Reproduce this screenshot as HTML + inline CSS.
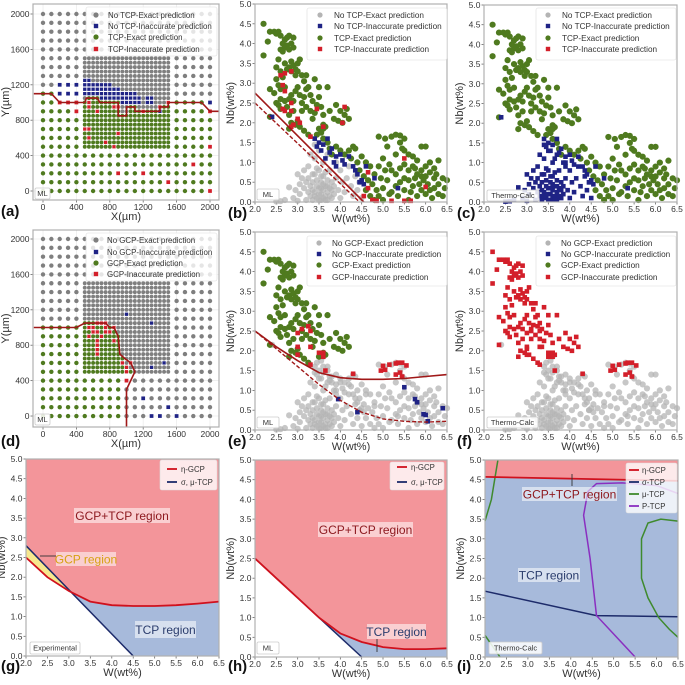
<!DOCTYPE html>
<html><head><meta charset="utf-8"><style>
html,body{margin:0;padding:0;background:#fff;width:685px;height:685px;overflow:hidden}
svg{display:block}
text{font-family:"Liberation Sans",Arial,sans-serif}
</style></head><body>
<svg id="chart" width="685" height="685" viewBox="0 0 685 685" xmlns="http://www.w3.org/2000/svg"></svg>
<script>
// ---------- data ----------
const gridOuter=[0,100,200,300,400,500,600,700,800,900,1000,1100,1200,1300,1400,1500,1600,1700,1800,1900,2000];
const gridInner=[500,550,600,650,700,750,800,850,900,950,1000,1050,1100,1150,1200,1250,1300,1350,1400,1450,1500];
const aBoundX=[-110,100,200,500,520,650,680,900,900,1000,1000,1100,1100,1400,1400,1500,1500,1900,2000,2110];
const aBoundY=[1100,1100,1000,1000,1050,1050,1000,1000,850,850,950,950,900,900,950,950,1000,1000,900,900];
const aBlue=[[200,1200],[300,1200],[400,1200],[200,1100],[300,1100],[400,1100],[500,1250],[550,1250],[500,1200],[550,1200],[600,1200],[650,1200],[700,1200],[750,1200],[800,1200],[500,1150],[550,1150],[600,1150],[650,1150],[700,1150],[750,1150],[800,1150],[850,1150],[900,1150],[500,1100],[550,1100],[600,1100],[650,1100],[700,1100],[750,1100],[800,1100],[850,1100],[900,1100],[950,1100],[1000,1100],[1050,1100],[1100,1100],[700,1050],[750,1050],[800,1050],[850,1050],[900,1050],[950,1050],[1000,1050],[1050,1050],[1100,1050],[1150,1050],[1250,1050],[1300,1050],[950,1000],[1000,1000],[1050,1000],[1100,1000],[1150,1000],[1250,1000],[1300,1000],[1400,900],[2000,1000]];
const aRed=[[200,1000],[300,1000],[400,1000],[400,900],[550,1000],[550,950],[650,900],[900,950],[850,950],[500,700],[550,700],[550,600],[750,550],[850,500],[900,650],[1500,1000],[2000,900],[2000,500],[1800,300],[900,200],[1200,200],[1500,100],[2000,0],[1400,950],[1200,900]];
const dBoundX=[-110,400,500,750,800,850,900,920,980,1050,1100,1050,1000,1000];
const dBoundY=[1000,1000,1050,1050,1000,1000,900,700,650,600,500,400,300,-120];
const dLimitY=[1050,1000,950,900,850,800,750,700,650,600,550,500,400,300,200,100,0];
const dLimitX=[750,850,850,900,900,900,900,900,950,950,1000,1050,950,950,950,950,950];
const dRed=[[550,1000],[600,1000],[650,1050],[700,1050],[750,1050],[850,1000],[600,950],[650,950],[750,950],[700,900],[800,950],[750,1000],[550,900],[650,850],[650,800],[650,750],[650,700],[850,850],[950,600],[1000,550],[1000,500],[1050,600],[1000,400]];
const dBlue=[[1000,1150],[1300,1050],[1300,550],[1450,600],[1200,200],[1500,100],[1300,0],[1400,0],[1600,0]];

const ptsA=[[2.2,4.5],[2.2,3.7],[2.3,4.05],[2.35,4.3],[2.45,4.3],[2.5,4.25],[2.55,4.3],[2.6,4.2],[2.65,4.0],[2.7,3.9],[2.7,4.1],[2.75,3.95],[2.8,3.85],[2.8,4.2],[2.85,4.0],[2.6,3.85],[2.65,3.8],[2.75,4.15],[2.9,4.15],[2.9,3.9],[2.55,3.6],[2.5,3.4],[2.6,3.3],[2.7,3.5],[2.75,3.35],[2.8,3.4],[2.85,3.3],[2.9,3.45],[2.95,3.35],[3.0,3.5],[3.0,3.3],[3.05,3.6],[2.85,3.55],[2.95,3.2],[3.1,3.2],[3.15,3.05],[3.2,3.2],[2.5,3.1],[2.55,2.95],[2.6,2.85],[2.65,3.15],[2.7,2.9],[2.45,2.75],[2.35,2.85],[2.5,2.5],[2.55,2.45],[2.6,2.6],[2.7,2.55],[2.75,2.4],[2.8,2.6],[2.85,2.7],[2.9,2.55],[2.95,2.8],[3.0,2.9],[3.05,2.7],[3.1,2.5],[3.15,2.65],[3.2,2.85],[3.25,2.9],[3.3,2.7],[3.35,2.55],[3.3,2.3],[3.2,2.4],[3.1,2.3],[2.9,2.3],[2.8,2.2],[2.85,2.0],[2.8,1.85],[2.95,1.95],[3.0,2.05],[3.05,1.9],[3.15,1.8],[3.25,1.7],[3.35,2.1],[3.4,2.25],[3.45,2.45],[3.5,2.65],[3.55,2.4],[3.6,2.2],[3.7,2.9],[3.65,1.9],[3.5,1.85],[3.6,1.95],[3.9,2.45],[4.0,2.3],[4.1,2.2],[4.15,2.35],[4.05,2.0],[4.2,2.1],[3.85,2.1],[3.95,2.05],[3.75,2.3],[2.6,2.35],[2.35,2.15],[3.4,3.1],[3.5,2.9]];
const ptsB=[[3.6,1.6],[3.7,1.5],[3.75,1.35],[3.8,1.2],[3.9,1.4],[4.0,1.3],[4.1,1.2],[4.2,1.3],[4.3,1.4],[4.35,1.35],[4.25,1.1],[4.4,1.0],[4.5,1.15],[4.6,1.0],[4.7,0.9],[4.45,0.8],[4.55,0.65],[4.65,0.55],[4.8,0.7],[4.75,0.45],[4.85,0.3],[4.9,0.9],[4.6,0.3],[4.7,0.15],[4.8,0.05],[3.55,1.75],[3.45,1.7],[3.6,1.85]];
const ptsC=[[4.9,1.65],[5.05,1.6],[5.2,1.65],[5.3,1.7],[5.4,1.68],[5.5,1.6],[5.4,1.5],[5.45,1.35],[5.1,1.4],[5.0,1.1],[5.15,0.95],[5.3,1.2],[5.5,1.3],[5.6,1.2],[5.7,1.15],[5.8,1.05],[5.9,1.4],[6.0,1.4],[6.1,1.0],[6.2,0.85],[6.3,1.05],[6.4,0.6],[6.5,0.55],[6.45,0.35],[6.3,0.45],[6.2,0.6],[6.1,0.75],[6.0,0.9],[5.9,0.8],[5.8,0.7],[5.7,0.9],[5.6,0.8],[5.5,0.95],[5.4,0.85],[5.3,0.7],[5.2,0.8],[5.1,0.55],[5.0,0.35],[4.9,0.15],[5.0,0.05],[5.2,0.25],[5.3,0.4],[5.4,0.5],[5.5,0.3],[5.6,0.55],[5.7,0.4],[5.75,0.6],[5.85,0.45],[5.9,0.3],[5.95,0.55],[6.0,0.2],[6.05,0.45],[6.1,0.3],[6.15,0.1],[6.2,0.35],[6.3,0.2],[6.4,0.15],[5.8,0.15],[5.6,0.05],[5.65,0.25],[5.9,0.65],[6.0,0.65],[5.5,0.6],[5.35,0.15],[5.75,0.85],[6.25,0.7],[4.95,0.6],[5.05,0.8],[5.15,0.2]];
const ptsD=[[2.8,0.37],[2.7,0.05],[2.9,0.1],[3.0,0.7],[3.05,0.2],[3.1,0.6],[3.15,0.35],[3.2,0.05],[3.2,0.5],[3.25,0.9],[3.3,0.15],[3.3,0.4],[3.35,0.7],[3.35,0.05],[3.4,0.25],[3.4,1.1],[3.45,0.55],[3.45,0.1],[3.5,0.35],[3.5,0.8],[3.5,1.3],[3.55,0.05],[3.55,0.2],[3.55,0.5],[3.6,0.3],[3.6,0.1],[3.6,0.65],[3.6,1.0],[3.65,0.4],[3.65,0.15],[3.7,0.05],[3.7,0.25],[3.7,0.55],[3.7,1.2],[3.75,0.35],[3.75,0.8],[3.8,0.1],[3.8,0.5],[3.85,0.2],[3.9,0.6],[3.9,1.0],[3.95,0.3],[4.0,0.1],[4.0,0.8],[4.05,0.5],[4.1,0.25],[4.15,0.6],[4.2,0.9],[4.25,0.4],[4.3,0.15],[4.35,0.65],[4.4,0.3],[4.45,0.5],[4.5,0.1],[3.3,1.2],[3.4,1.45],[3.25,0.25],[3.45,0.85],[3.15,0.8],[3.05,0.45],[2.95,0.3],[3.35,0.5],[3.5,0.05],[3.65,0.75],[3.8,0.3],[3.4,0.7],[2.6,0.02],[2.5,0.01],[3.0,0.03],[3.35,0.3],[3.45,0.4],[3.55,0.35],[3.65,0.05],[3.75,0.15],[3.5,0.2],[3.4,0.15],[3.6,0.45],[3.7,0.4],[3.25,0.6],[3.85,0.4],[3.55,0.65]];
const bBlue=[[2.4,2.15],[3.4,1.6],[3.45,1.4],[3.5,1.5],[3.55,1.3],[3.6,1.45],[3.65,1.1],[3.7,1.6],[3.75,1.25],[3.8,1.35],[3.85,1.0],[3.9,0.9],[4.0,1.2],[4.05,1.05],[4.1,0.95],[4.2,1.15],[4.3,0.9],[4.35,0.8],[4.4,0.7],[4.45,0.5],[4.5,0.55],[4.6,0.9],[4.8,0.6],[5.35,0.35],[3.9,1.15],[4.55,0.45]];
const bRed=[[2.6,3.2],[2.7,3.25],[2.85,3.3],[2.65,2.95],[2.7,2.8],[2.65,2.35],[2.7,2.3],[2.85,2.5],[2.85,2.3],[3.0,2.1],[3.05,2.0],[2.9,1.95],[2.85,1.9],[3.3,1.65],[3.45,2.35],[3.6,1.9],[4.05,2.0],[4.1,2.4],[4.65,0.75],[4.55,0.15],[4.65,0.35],[4.75,0.05],[4.85,0.03],[5.2,0.03],[5.5,1.1],[5.5,0.03],[5.65,0.03],[6.0,0.38]];
const eRed=[[3.0,2.45],[3.1,2.55],[3.25,2.62],[3.3,2.5],[3.0,2.1],[3.0,1.9],[3.3,2.1],[3.5,1.95],[3.6,1.95],[3.6,1.85],[3.3,1.65],[3.65,1.5],[4.3,1.42],[4.95,1.5],[5.0,1.62],[5.05,1.52],[5.15,1.65],[5.3,1.68],[5.35,1.7],[5.45,1.7],[5.55,1.63],[5.3,1.4],[5.4,1.45],[5.45,1.35]];
const eBlue=[[3.95,0.78],[4.4,0.45],[5.5,1.08],[5.75,0.78],[5.8,0.7],[5.95,0.4],[6.0,0.38],[6.05,0.22],[6.4,0.55]];
const bSolidW=[2.0,4.55], bSolidNb=[2.75,0.0];
const bDashW=[2.0,4.45], bDashNb=[2.5,0.0];
const curveW=[2.0,2.5,3.0,3.5,4.0,4.5,5.0,5.5,6.0,6.5];
const eSolidNb=[2.5,2.1,1.75,1.45,1.32,1.28,1.28,1.3,1.35,1.4];
const eDashNb=[2.5,2.05,1.6,1.15,0.75,0.45,0.28,0.22,0.2,0.22];
const gRedNb=[2.5,2.0,1.65,1.38,1.29,1.27,1.27,1.29,1.33,1.38];
const gBlueW=[2.0,4.5], gBlueNb=[2.8,0.0];
const hRedNb=[2.5,2.0,1.5,1.0,0.6,0.38,0.25,0.2,0.2,0.22];
const hBlueW=[2.0,4.5], hBlueNb=[2.5,0.0];
const iRedW=[2.0,6.5], iRedNb=[4.57,4.47];
const iSigmaW=[2.0,4.6,6.5], iSigmaNb=[1.67,1.05,1.02];
const iPW=[6.5,6.0,5.2,4.6,4.4,4.3,4.45,4.6,5.5], iPNb=[4.15,4.35,4.42,4.4,4.2,3.6,2.5,1.05,0.0];
const iMu1W=[2.0,2.15,2.3], iMu1Nb=[3.45,4.0,5.0];
const iMu2W=[2.0,2.35], iMu2Nb=[0.55,0.0];
const iMu3W=[6.5,6.1,5.8,5.65,5.65,5.8,6.05,6.3,6.5], iMu3Nb=[3.45,3.5,3.4,3.0,2.0,1.5,1.0,0.7,0.5];
const umTicks=[0,400,800,1200,1600,2000];
const wTicks=[2.0,2.5,3.0,3.5,4.0,4.5,5.0,5.5,6.0,6.5];
const nbTicks=[0,0.5,1,1.5,2,2.5,3,3.5,4,4.5,5];

// ---------- helpers ----------
const NS='http://www.w3.org/2000/svg';
const svg=document.getElementById('chart');
function mk(tag,name,inter,parent,at){
  const e=document.createElementNS(NS,tag);
  
  
  for(const k in at) e.setAttribute(k,at[k]);
  (parent||svg).appendChild(e);return e;
}
function txt(name,parent,x,y,s,at){const t=mk('text',name,'false',parent,at);t.setAttribute('x',x);t.setAttribute('y',y);t.textContent=s;return t;}
function panel(id,L,R,T,B,x0,x1,y0,y1){
  const g=mk('g','panel-'+id,'false',svg,{});
  return {g,L,R,T,B,sx:v=>L+(v-x0)/(x1-x0)*(R-L),sy:v=>B-(v-y0)/(y1-y0)*(B-T)};
}
const GREEN='#4f7a1f',GRAY='#8a8a8a',BLUE='#1f2385',RED='#d31f2a',LGRAY='#b4b4b4';
function dot(p,name,x,y,r,col,op){return mk('circle',name,'false',p.g,{cx:p.sx(x),cy:p.sy(y),r:r,fill:col,'fill-opacity':op||1});}
function sq(p,name,x,y,s,col){return mk('rect',name,'false',p.g,{x:p.sx(x)-s/2,y:p.sy(y)-s/2,width:s,height:s,fill:col});}
function line(p,name,xs,ys,col,w,dash){
  let d='';for(let i=0;i<xs.length;i++)d+=(i?'L':'M')+p.sx(xs[i]).toFixed(1)+','+p.sy(ys[i]).toFixed(1);
  const a={d:d,fill:'none',stroke:col,'stroke-width':w};if(dash)a['stroke-dasharray']=dash;
  return mk('path',name,'false',p.g,a);
}
function frame(p){mk('rect','plot-frame','false',p.g,{x:p.L,y:p.T,width:p.R-p.L,height:p.B-p.T,fill:'none',stroke:'#b0b0b0','stroke-width':1.2});}
function axes(p,xt,yt,fmtX,fmtY,xTitle,yTitle,gridlines){
  xt.forEach(v=>{const x=p.sx(v);
    if(gridlines)mk('line','x-gridline','false',p.g,{x1:x,x2:x,y1:p.T,y2:p.B,stroke:'#ececec','stroke-width':0.8});
    mk('line','x-tick','false',p.g,{x1:x,x2:x,y1:p.B,y2:p.B+2.5,stroke:'#666','stroke-width':0.8});
    txt('x-tick-label',p.g,x,p.B+10,fmtX(v),{'font-size':8.5,fill:'#333','text-anchor':'middle'});});
  yt.forEach(v=>{const y=p.sy(v);
    if(gridlines)mk('line','y-gridline','false',p.g,{x1:p.L,x2:p.R,y1:y,y2:y,stroke:'#ececec','stroke-width':0.8});
    mk('line','y-tick','false',p.g,{x1:p.L-2.5,x2:p.L,y1:y,y2:y,stroke:'#666','stroke-width':0.8});
    txt('y-tick-label',p.g,p.L-3.5,y+3,fmtY(v),{'font-size':8.5,fill:'#333','text-anchor':'end'});});
  txt('x-axis-title',p.g,(p.L+p.R)/2,p.B+20,xTitle,{'font-size':11,fill:'#333','text-anchor':'middle'});
  const yx=p.L-(gridlines?24:21),yy=(p.T+p.B)/2;
  txt('y-axis-title',p.g,yx,yy,yTitle,{'font-size':11,fill:'#333','text-anchor':'middle',transform:`rotate(-90 ${yx} ${yy})`});
}
function tagBox(p,name,x,y,w,h,s,fs){
  mk('rect',name+'-box','false',p.g,{x:x,y:y,width:w,height:h,fill:'#fff','fill-opacity':0.85,stroke:'#ccc','stroke-width':0.8,rx:1.5});
  txt(name,p.g,x+w/2,y+h/2+fs*0.36,s,{'font-size':fs,fill:'#333','text-anchor':'middle'});
}
function legend(p,x,y,w,h,items,mx,tx,ys,fs){
  const lg=mk('g','legend','false',p.g,{});
  mk('rect','legend-box','false',lg,{x:x,y:y,width:w,height:h,fill:'#fff','fill-opacity':0.8,stroke:'#ddd','stroke-width':0.6,rx:2});
  items.forEach((it,i)=>{
    const yy=ys[i];
    if(it.k==='c')mk('circle','legend-marker','false',lg,{cx:mx,cy:yy,r:2.6,fill:it.c,'fill-opacity':it.o||1});
    else if(it.k==='s')mk('rect','legend-marker','false',lg,{x:mx-2.2,y:yy-2.2,width:4.4,height:4.4,fill:it.c});
    else mk('line','legend-line','false',lg,{x1:mx-5,x2:mx+5,y1:yy,y2:yy,stroke:it.c,'stroke-width':1.8});
    txt('legend-entry',lg,tx,yy+fs*0.36,it.t,{'font-size':fs,fill:'#333'});
  });
}
function plabel(s,x,y){txt('panel-label',svg,x,y,s,{'font-size':15,'font-weight':'bold',fill:'#111'});}
function interp(xs,ys,x){for(let i=0;i<xs.length-1;i++){if(x>=xs[i]&&x<=xs[i+1]&&xs[i+1]>xs[i])return ys[i]+(ys[i+1]-ys[i])*(x-xs[i])/(xs[i+1]-xs[i]);}
  for(let i=0;i<xs.length;i++)if(xs[i]===x)return ys[i];return ys[ys.length-1];}
function key(a){return a[0]+','+a[1];}

// ---------- grid panels (a),(d) ----------
function gridPoints(){const pts=[];
  gridOuter.forEach(x=>gridOuter.forEach(y=>{if(!(x>=500&&x<=1500&&y>=500&&y<=1500))pts.push([x,y,4.4]);}));
  gridInner.forEach(x=>gridInner.forEach(y=>pts.push([x,y,3.9])));return pts;}
function gridPanel(p,isGreen,blues,reds,bx,by){
  axes(p,umTicks,umTicks,v=>String(v),v=>String(v),'X(µm)','Y(µm)',true);
  const bs=new Set(blues.map(key)),rs=new Set(reds.map(key));
  gridPoints().forEach(q=>{const k=q[0]+','+q[1];
    if(bs.has(k))sq(p,'grid-point-inaccurate-no',q[0],q[1],q[2]*0.85,BLUE);
    else if(rs.has(k))sq(p,'grid-point-inaccurate-yes',q[0],q[1],q[2]*0.85,RED);
    else dot(p,'grid-point',q[0],q[1],q[2]/2,isGreen(q[0],q[1])?GREEN:'#7f7f7f');});
  line(p,'phase-boundary-line',bx,by,'#a01818',1.6);
  frame(p);
}
const pa=panel('a',33,219,4,200,-119.8,2107.8,-101.7,2113);
gridPanel(pa,(x,y)=>y<=interp(aBoundX,aBoundY,x),aBlue,aRed,aBoundX,aBoundY);
legend(pa,86,7,131,49,[{k:'c',c:'#7f7f7f',t:'No TCP-Exact prediction'},{k:'s',c:BLUE,t:'No TCP-Inaccurate prediction'},{k:'c',c:GREEN,t:'TCP-Exact prediction'},{k:'s',c:RED,t:'TCP-Inaccurate prediction'}],96,108,[15,26,37,49],7.9);
tagBox(pa,'source-tag-ml',35,188,15,11,'ML',7.5);
plabel('(a)',1,216);

const pd=panel('d',33,219,230,427,-119.8,2107.8,-124,2101.7);
gridPanel(pd,(x,y)=>{const i=dLimitY.indexOf(y);return i>=0&&x<=dLimitX[i];},dBlue,dRed,dBoundX,dBoundY);
legend(pd,86,233,131,48,[{k:'c',c:'#7f7f7f',t:'No GCP-Exact prediction'},{k:'s',c:BLUE,t:'No GCP-Inaccurate prediction'},{k:'c',c:GREEN,t:'GCP-Exact prediction'},{k:'s',c:RED,t:'GCP-Inaccurate prediction'}],96,107,[240,252,263,274],7.9);
tagBox(pd,'source-tag-ml',35,414,15,11,'ML',7.5);
plabel('(d)',1,446);

// ---------- scatter panels ----------
function scat(p,arr,name,col,kind,op){arr.forEach(a=>{if(kind==='c')dot(p,name,a[0],a[1],3.1,col,op);else sq(p,name,a[0],a[1],4.6,col);});}
function scatterAxes(p){axes(p,wTicks,nbTicks,v=>v.toFixed(1),v=>v.toFixed(1),'W(wt%)','Nb(wt%)',false);}
const tcpLeg=[{k:'c',c:LGRAY,t:'No TCP-Exact prediction'},{k:'s',c:BLUE,t:'No TCP-Inaccurate prediction'},{k:'c',c:GREEN,t:'TCP-Exact prediction'},{k:'s',c:RED,t:'TCP-Inaccurate prediction'}];
const gcpLeg=[{k:'c',c:LGRAY,t:'No GCP-Exact prediction'},{k:'s',c:BLUE,t:'No GCP-Inaccurate prediction'},{k:'c',c:GREEN,t:'GCP-Exact prediction'},{k:'s',c:RED,t:'GCP-Inaccurate prediction'}];

const pb=panel('b',255,447,4,202,2,6.5,0,5);
scatterAxes(pb);
scat(pb,ptsD,'point-no-tcp-exact',LGRAY,'c',0.75);
scat(pb,ptsA,'point-tcp-exact',GREEN,'c');scat(pb,ptsB,'point-tcp-exact',GREEN,'c');scat(pb,ptsC,'point-tcp-exact',GREEN,'c');
scat(pb,bBlue,'point-no-tcp-inaccurate',BLUE,'s');scat(pb,bRed,'point-tcp-inaccurate',RED,'s');
line(pb,'ml-boundary-solid',bSolidW,bSolidNb,'#a01818',1.6);
line(pb,'ml-boundary-dashed',bDashW,bDashNb,'#a01818',1.4,'4,2');
frame(pb);
legend(pb,307,8,140,52,tcpLeg,320,334,[15,26,38,49],8.2);
tagBox(pb,'source-tag-ml',257,189,22,11,'ML',7.5);
plabel('(b)',228,218);

const pc=panel('c',484,677,5,202,2,6.5,0,5);
scatterAxes(pc);
scat(pc,ptsA,'point-tcp-exact',GREEN,'c');scat(pc,ptsB,'point-tcp-exact',GREEN,'c');scat(pc,ptsC,'point-tcp-exact',GREEN,'c');
scat(pc,ptsD,'point-no-tcp-inaccurate',BLUE,'s');scat(pc,bBlue,'point-no-tcp-inaccurate',BLUE,'s');
frame(pc);
legend(pc,536,8,140,52,tcpLeg,548,562,[15,26,38,49],8.2);
tagBox(pc,'source-tag-thermo-calc',487,190,52,11,'Thermo-Calc',7.5);
plabel('(c)',457,218);

const pe=panel('e',255,447,232,430,2,6.5,0,5);
scatterAxes(pe);
scat(pe,ptsD,'point-no-gcp-exact',LGRAY,'c',0.75);scat(pe,ptsB,'point-no-gcp-exact',LGRAY,'c',0.75);scat(pe,ptsC,'point-no-gcp-exact',LGRAY,'c',0.75);scat(pe,bBlue,'point-no-gcp-exact',LGRAY,'c',0.75);
scat(pe,ptsA,'point-gcp-exact',GREEN,'c');
scat(pe,eRed,'point-gcp-inaccurate',RED,'s');scat(pe,eBlue,'point-no-gcp-inaccurate',BLUE,'s');
line(pe,'ml-boundary-solid',curveW,eSolidNb,'#a01818',1.6);
line(pe,'ml-boundary-dashed',curveW,eDashNb,'#a01818',1.4,'4,2');
frame(pe);
legend(pe,307,236,140,50,gcpLeg,319,332,[243,254,265,277],8.2);
tagBox(pe,'source-tag-ml',257,417,22,11,'ML',7.5);
plabel('(e)',228,446);

const pf=panel('f',484,677,232,430,2,6.5,0,5);
scatterAxes(pf);
scat(pf,ptsD,'point-no-gcp-exact',LGRAY,'c',0.75);scat(pf,ptsB,'point-no-gcp-exact',LGRAY,'c',0.75);scat(pf,ptsC,'point-no-gcp-exact',LGRAY,'c',0.75);scat(pf,bBlue,'point-no-gcp-exact',LGRAY,'c',0.75);
scat(pf,ptsA,'point-gcp-inaccurate',RED,'s');scat(pf,eRed,'point-gcp-inaccurate',RED,'s');
frame(pf);
legend(pf,536,236,140,50,gcpLeg,548,561,[243,254,265,277],8.2);
tagBox(pf,'source-tag-thermo-calc',487,417,51,11,'Thermo-Calc',7.5);
plabel('(f)',457,446);

// ---------- region panels ----------
const PINK='#f3959a',LBLUE='#a7badb',YEL='#f7e88e';
function poly(p,name,pts,col){mk('path',name,'false',p.g,{d:'M'+pts.map(q=>p.sx(q[0]).toFixed(1)+','+p.sy(q[1]).toFixed(1)).join('L')+'Z',fill:col,stroke:'none'});}
function regionLabel(p,name,x,y,w,h,s,col,fs){mk('rect',name+'-box','false',p.g,{x:x,y:y,width:w,height:h,fill:'#fff','fill-opacity':0.55});
  txt(name,p.g,x+w/2,y+h/2+fs*0.36,s,{'font-size':fs,fill:col,'text-anchor':'middle'});}
function lineY(xs,ys,x){return interp(xs,ys,x);}
function regionPanel(p,redNb,blueW,blueNb){
  const up=[],fineW=[];
  for(let w=2;w<=6.5001;w+=0.05)fineW.push(+w.toFixed(2));
  fineW.forEach(w=>{const r=lineY(curveW,redNb,w),b=w<=blueW[1]?lineY(blueW,blueNb,w):0;up.push([w,Math.max(r,b)]);});
  poly(p,'gcp-tcp-region',[[2,5],...up,[6.5,5]],PINK);
  const bl=fineW.filter(w=>{const b=w<=blueW[1]?lineY(blueW,blueNb,w):0;return lineY(curveW,redNb,w)>=b;});
  poly(p,'tcp-region',[...bl.map(w=>[w,lineY(curveW,redNb,w)]),[6.5,0],...bl.slice().reverse().map(w=>[w,w<=blueW[1]?lineY(blueW,blueNb,w):0])],LBLUE);
  const yw=fineW.filter(w=>w<=blueW[1]&&lineY(blueW,blueNb,w)>lineY(curveW,redNb,w));
  if(yw.length>1)poly(p,'gcp-region',[...yw.map(w=>[w,lineY(blueW,blueNb,w)]),...yw.slice().reverse().map(w=>[w,lineY(curveW,redNb,w)])],YEL);
  line(p,'sigma-mu-tcp-line',blueW,blueNb,'#1d2b6a',1.5);
  line(p,'eta-gcp-line',curveW,redNb,'#d0111d',1.8);
}
const pg=panel('g',26,219,459,656,2,6.5,0,5);
axes(pg,wTicks,nbTicks,v=>v.toFixed(1),v=>v.toFixed(1),'W(wt%)','Nb(wt%)',false);
regionPanel(pg,gRedNb,gBlueW,gBlueNb);
frame(pg);
regionLabel(pg,'gcp-tcp-region-label',74,508,96,15,'GCP+TCP  region','#8e1a20',12);
regionLabel(pg,'gcp-region-label',56,552,60,14,'GCP region','#d7a214',12);
mk('line','gcp-region-pointer','false',pg.g,{x1:56,y1:556,x2:40,y2:556,stroke:'#333','stroke-width':0.9});
regionLabel(pg,'tcp-region-label',135,621,61,17,'TCP region','#2b3d6d',12);
legend(pg,160,460,57,30,[{k:'l',c:'#d0111d',t:'η-GCP'},{k:'l',c:'#1d2b6a',t:'σ, μ-TCP'}],172,181,[469,482],7.8);
tagBox(pg,'source-tag-experimental',30,642,50,12,'Experimental',7.5);
plabel('(g)',1,671);

const ph=panel('h',255,447,460,657,2,6.5,0,5);
axes(ph,wTicks,nbTicks,v=>v.toFixed(1),v=>v.toFixed(1),'W(wt%)','Nb(wt%)',false);
regionPanel(ph,hRedNb,hBlueW,hBlueNb);
frame(ph);
regionLabel(ph,'gcp-tcp-region-label',318,522,95,15,'GCP+TCP  region','#8e1a20',12);
regionLabel(ph,'tcp-region-label',367,624,59,15,'TCP region','#2b3d6d',12);
mk('line','tcp-region-pointer','false',ph.g,{x1:377,y1:639,x2:377,y2:652,stroke:'#333','stroke-width':0.9});
legend(ph,390,462,54,28,[{k:'l',c:'#d0111d',t:'η-GCP'},{k:'l',c:'#1d2b6a',t:'σ, μ-TCP'}],402,411,[467,482],7.8);
tagBox(ph,'source-tag-ml',257,642,22,12,'ML',7.5);
plabel('(h)',228,671);

const pi=panel('i',485,678,460,657,2,6.5,0,5);
axes(pi,wTicks,nbTicks,v=>v.toFixed(1),v=>v.toFixed(1),'W(wt%)','Nb(wt%)',false);
poly(pi,'tcp-region',[[2,0],[2,iRedNb[0]],[6.5,iRedNb[1]],[6.5,0]],LBLUE);
poly(pi,'gcp-tcp-region',[[2,5],[2,iRedNb[0]],[6.5,iRedNb[1]],[6.5,5]],PINK);
line(pi,'sigma-tcp-line',iSigmaW,iSigmaNb,'#1d2b6a',1.5);
line(pi,'p-tcp-line',iPW,iPNb,'#8a2fc0',1.5);
line(pi,'mu-tcp-line',iMu1W,iMu1Nb,'#3f8a2e',1.5);
line(pi,'mu-tcp-line',iMu2W,iMu2Nb,'#3f8a2e',1.5);
line(pi,'mu-tcp-line',iMu3W,iMu3Nb,'#3f8a2e',1.5);
line(pi,'eta-gcp-line',iRedW,iRedNb,'#d0111d',1.8);
frame(pi);
regionLabel(pi,'gcp-tcp-region-label',522,487,95,14,'GCP+TCP  region','#8e1a20',12);
mk('line','gcp-tcp-region-pointer','false',pi.g,{x1:572,y1:486,x2:572,y2:474,stroke:'#333','stroke-width':0.9});
regionLabel(pi,'tcp-region-label',518,568,62,14,'TCP  region','#2b3d6d',12);
legend(pi,626,463,51,50,[{k:'l',c:'#d0111d',t:'η-GCP'},{k:'l',c:'#1d2b6a',t:'σ-TCP'},{k:'l',c:'#3f8a2e',t:'μ-TCP'},{k:'l',c:'#8a2fc0',t:'P-TCP'}],634,642,[470,482,494,506],7.8);
tagBox(pi,'source-tag-thermo-calc',489,642,53,12,'Thermo-Calc',7.5);
plabel('(i)',457,671);
</script>
</body></html>
